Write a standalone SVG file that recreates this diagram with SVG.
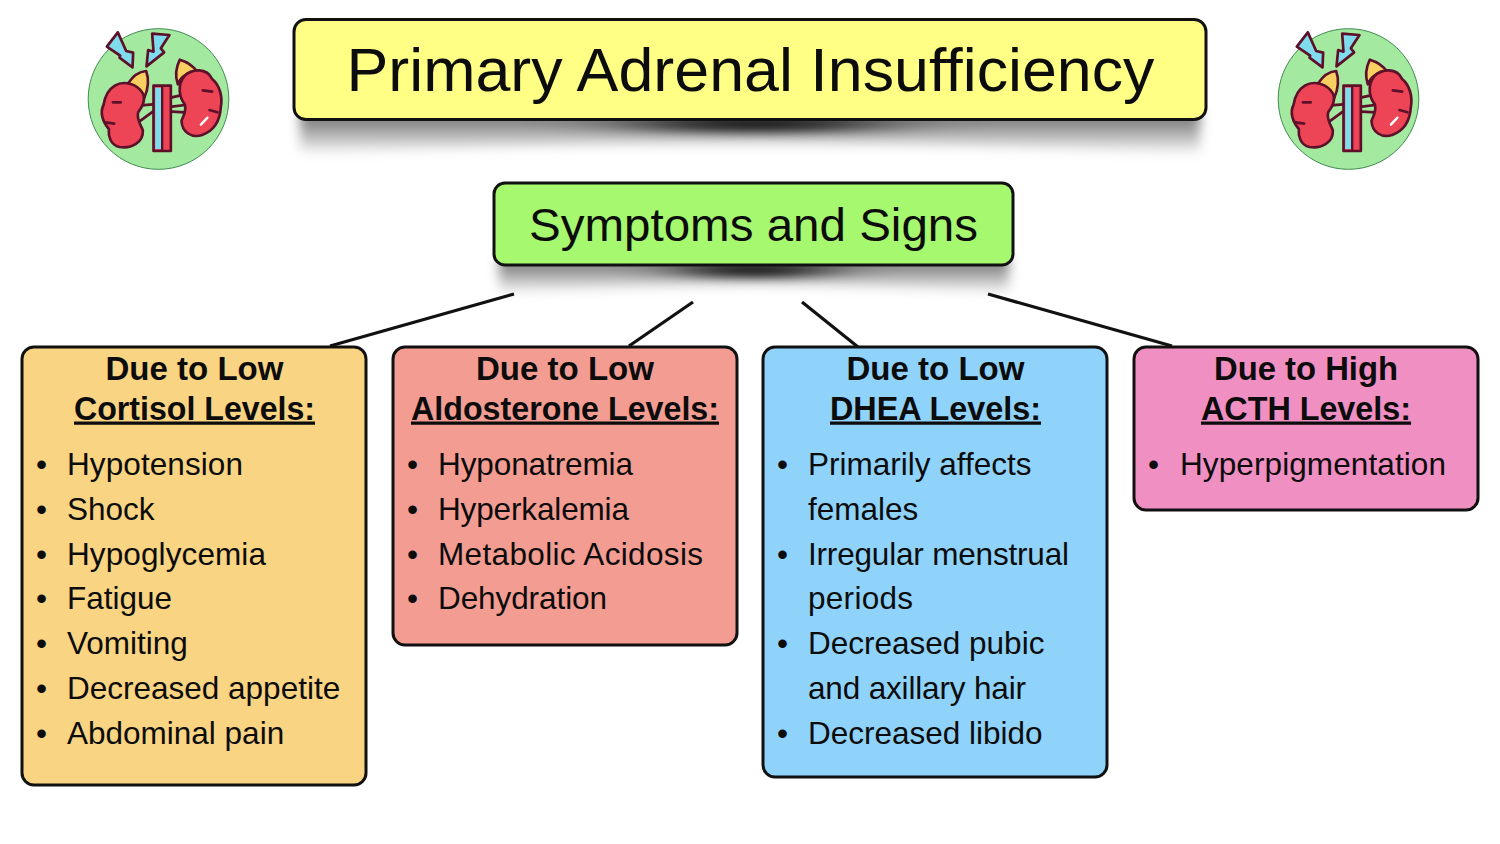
<svg xmlns="http://www.w3.org/2000/svg" xmlns:xlink="http://www.w3.org/1999/xlink" width="1500" height="844" viewBox="0 0 1500 844">
<style>
text{font-family:"Liberation Sans",Arial,sans-serif;fill:#0c0c0c}
.box{stroke:#111;stroke-width:3}
.h{font-size:32.5px;font-weight:bold;text-anchor:middle}
.u{text-decoration:underline}
.li{font-size:31.5px}
.conn{stroke:#111;stroke-width:3.2;fill:none}
.ol{stroke:#5c1029;stroke-width:8;stroke-linejoin:round;stroke-linecap:round}
</style>
<defs>
<linearGradient id="fade" x1="0" x2="0" y1="0" y2="1">
<stop offset="0" stop-color="#000" stop-opacity=".6"/>
<stop offset=".55" stop-color="#000" stop-opacity=".28"/>
<stop offset="1" stop-color="#000" stop-opacity="0"/>
</linearGradient>
<filter id="b1" x="-10%" y="-100%" width="120%" height="300%"><feGaussianBlur stdDeviation="6"/></filter>
<filter id="b2" x="-150%" y="-300%" width="400%" height="700%"><feGaussianBlur stdDeviation="55 5"/></filter>
<filter id="b3" x="-150%" y="-300%" width="400%" height="700%"><feGaussianBlur stdDeviation="35 4"/></filter>
<g id="icon" transform="translate(-265 -252)">
<circle cx="265" cy="252" r="211" fill="#a4e9a0" stroke="#3f8a50" stroke-width="3"/>
<path class="ol" fill="#7fdcec" d="M143 52 L110 95 L150 122 L148 128 L187 157 L189 113 L168 108 Z"/>
<path class="ol" fill="#7fdcec" d="M246 56 L298 60 L272 100 L282 112 L229 154 L234 105 L250 110 Z"/>
<path class="ol" d="M204 272 L248 268 M204 322 L248 290 M305 247 L345 238 M305 275 L345 270 M305 290 L345 292" fill="none"/>
<path class="ol" fill="#f9cf62" d="M174 205 C188 183 208 170 228 168 C236 190 234 222 222 250 C208 228 193 215 174 205 Z"/>
<path class="ol" fill="#f9cf62" d="M329 134 C350 140 370 154 381 170 C350 172 332 185 323 208 C315 185 318 156 329 134 Z"/>
<path class="ol" fill="#ee4556" d="M134 212 C160 196 200 205 218 235 C228 258 214 278 204 292 C198 312 212 330 218 346 C220 382 184 402 148 396 C120 390 114 362 116 342 C98 322 88 292 100 270 C104 244 114 224 134 212 Z"/>
<path class="ol" fill="#ee4556" d="M342 184 C366 160 410 158 426 192 C448 210 458 244 452 276 C450 312 434 346 396 360 C364 370 336 352 334 318 C340 300 350 288 344 268 C328 248 320 212 342 184 Z"/>
<path class="ol" fill="none" d="M128 262 L152 262 M106 322 L132 326 M398 226 L426 230 M418 285 L442 292"/>
<path d="M392 329 L412 308" stroke="#fff" stroke-width="7" stroke-linecap="round"/>
<rect x="250" y="212" width="52" height="196" fill="#ee4556" class="ol"/>
<rect x="255" y="218" width="18" height="184" fill="#7fdcec"/>
<path d="M276 214 V406" stroke="#5c1029" stroke-width="7" fill="none"/>
</g>
</defs>
<rect width="1500" height="844" fill="#fff"/>

<g id="connectors">
<path class="conn" d="M514 294 L330 346"/>
<path class="conn" d="M693 302 L629 346"/>
<path class="conn" d="M802 302 L858 347"/>
<path class="conn" d="M988 294 L1172 346"/>
</g>

<g id="icon-left"><use href="#icon" xlink:href="#icon" transform="translate(158.500 99) scale(.3333)"/></g>
<g id="icon-right"><use href="#icon" xlink:href="#icon" transform="translate(1348.500 99) scale(.3333)"/></g>

<g id="title">
<path d="M300 112 H1200 V155 Q750 132 300 155 Z" fill="url(#fade)" filter="url(#b1)"/>
<ellipse cx="755" cy="124" rx="120" ry="9" fill="#000" opacity=".8" filter="url(#b2)"/>
<rect class="box" x="294" y="19.500" width="912" height="100" rx="12" fill="#ffff85"/>
<text x="750.500" y="91" font-size="62" text-anchor="middle" textLength="808" lengthAdjust="spacingAndGlyphs">Primary Adrenal Insufficiency</text>
</g>

<g id="symptoms">
<path d="M499 258 H1009 V294 Q754 276 499 294 Z" fill="url(#fade)" filter="url(#b1)"/>
<ellipse cx="754" cy="270" rx="75" ry="8" fill="#000" opacity=".8" filter="url(#b3)"/>
<rect class="box" x="494" y="183" width="519" height="82" rx="11" fill="#a6f86f"/>
<text x="753.500" y="241" font-size="47" text-anchor="middle" textLength="449" lengthAdjust="spacingAndGlyphs">Symptoms and Signs</text>
</g>

<g id="cortisol">
<rect class="box" x="22" y="347" width="344" height="438" rx="12" fill="#f9d483"/>
<text class="h" x="194.500" y="379.500" textLength="178" lengthAdjust="spacingAndGlyphs">Due to Low</text>
<text class="h u" x="194.500" y="419.500" textLength="241" lengthAdjust="spacingAndGlyphs">Cortisol Levels:</text>
<g class="li">
<text x="36" y="475">•</text><text x="67" y="475" textLength="176">Hypotension</text>
<text x="36" y="520">•</text><text x="67" y="520">Shock</text>
<text x="36" y="565">•</text><text x="67" y="565" textLength="199">Hypoglycemia</text>
<text x="36" y="609">•</text><text x="67" y="609">Fatigue</text>
<text x="36" y="654">•</text><text x="67" y="654">Vomiting</text>
<text x="36" y="699">•</text><text x="67" y="699">Decreased appetite</text>
<text x="36" y="744">•</text><text x="67" y="744">Abdominal pain</text>
</g>
</g>

<g id="aldosterone">
<rect class="box" x="393" y="347" width="344" height="298" rx="12" fill="#f39c92"/>
<text class="h" x="565" y="379.500" textLength="178" lengthAdjust="spacingAndGlyphs">Due to Low</text>
<text class="h u" x="565" y="419.500" textLength="308" lengthAdjust="spacingAndGlyphs">Aldosterone Levels:</text>
<g class="li">
<text x="407" y="475">•</text><text x="438" y="475" textLength="195">Hyponatremia</text>
<text x="407" y="520">•</text><text x="438" y="520" textLength="191">Hyperkalemia</text>
<text x="407" y="565">•</text><text x="438" y="565" textLength="265">Metabolic Acidosis</text>
<text x="407" y="609">•</text><text x="438" y="609" textLength="169">Dehydration</text>
</g>
</g>

<g id="dhea">
<rect class="box" x="763" y="347" width="344" height="430" rx="12" fill="#8fd3fb"/>
<text class="h" x="935.500" y="379.500" textLength="178" lengthAdjust="spacingAndGlyphs">Due to Low</text>
<text class="h u" x="935.500" y="419.500" textLength="211" lengthAdjust="spacingAndGlyphs">DHEA Levels:</text>
<g class="li">
<text x="777" y="475">•</text><text x="808" y="475">Primarily affects</text>
<text x="808" y="520">females</text>
<text x="777" y="565">•</text><text x="808" y="565" textLength="261">Irregular menstrual</text>
<text x="808" y="609" textLength="105">periods</text>
<text x="777" y="654">•</text><text x="808" y="654">Decreased pubic</text>
<text x="808" y="699" textLength="218">and axillary hair</text>
<text x="777" y="744">•</text><text x="808" y="744">Decreased libido</text>
</g>
</g>

<g id="acth">
<rect class="box" x="1134" y="347" width="344" height="163" rx="12" fill="#f08fc2"/>
<text class="h" x="1306" y="379.500" textLength="184" lengthAdjust="spacingAndGlyphs">Due to High</text>
<text class="h u" x="1306" y="419.500" textLength="210" lengthAdjust="spacingAndGlyphs">ACTH Levels:</text>
<g class="li">
<text x="1148" y="475">•</text><text x="1180" y="475" textLength="266">Hyperpigmentation</text>
</g>
</g>
</svg>
